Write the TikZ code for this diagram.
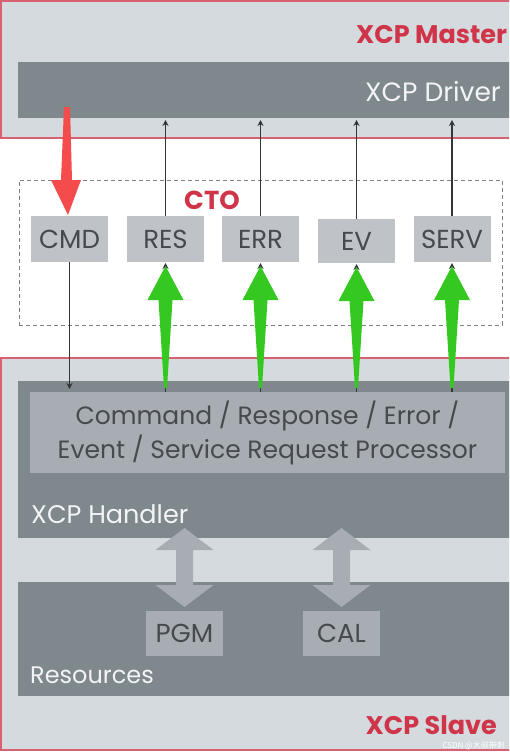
\documentclass[tikz,border=0pt]{standalone}
\usepackage{fontspec}
\setmainfont{Poppins}
\newfontfamily\cjkfont{Noto Sans CJK SC}
\usetikzlibrary{arrows.meta,calc}
\definecolor{panel}{RGB}{212,218,222}
\definecolor{panelborder}{RGB}{216,96,112}
\definecolor{darkbox}{RGB}{127,136,141}
\definecolor{ctofill}{RGB}{191,195,199}
\definecolor{procfill}{RGB}{167,173,178}
\definecolor{titlered}{RGB}{208,52,72}
\definecolor{redarrow}{RGB}{244,76,76}
\definecolor{greenarrow}{RGB}{52,200,32}
\definecolor{darktext}{RGB}{70,74,78}
\definecolor{lighttext}{RGB}{242,244,246}
\definecolor{thinline}{RGB}{50,53,57}
\tikzset{
  panelbox/.style={draw=panelborder, line width=1.5, fill=panel, inner sep=0, outer sep=0},
  darkpanel/.style={fill=darkbox, inner sep=0, outer sep=0},
  ctobox/.style={fill=ctofill, text=darktext, inner sep=0, outer sep=0, minimum width=77, minimum height=46, font=\fontsize{26}{30}\selectfont},
  resbox/.style={fill=procfill, text=darktext, inner sep=0, outer sep=0, minimum width=77, minimum height=45, font=\fontsize{26}{30}\selectfont},
  whitelabel/.style={text=lighttext, inner sep=0, font=\fontsize{25}{28}\selectfont},
  redtitle/.style={text=titlered, inner sep=0, font=\fontsize{25.5}{28}\selectfont\bfseries},
  thinarrow/.style={draw=thinline, line width=1.2, -{Stealth[length=6,width=6]}},
  fatgreen/.style={fill=greenarrow},
  fatred/.style={fill=redarrow},
  bothway/.style={fill=procfill},
}
\newcommand\greenup[2]{%
  \fill[fatgreen] ($(#1.south)+(0,4)$) -- ++(-18,34) -- ++(11,0)
    -- ($(#1.south |- #2.north)+(-1.5,-4)$) -- ++(3,0)
    -- ($(#1.south)+(7,38)$) -- ++(11,0) -- cycle;}
\newcommand\twoway[3]{%
  \fill[bothway] ($(#1.south -| #2.north)+(0,-10)$) coordinate (t#2)
    -- ++(29,22) -- ++(-20.5,0) -- ($(#2.north)+(8.5,-26)$) -- ++(20.5,0)
    -- ($(#2.north)+(0,-4)$) -- ++(-29,-22) -- ++(20.5,0)
    -- ($(t#2)+(-8.5,22)$) -- ++(-20.5,0) -- cycle;}
\begin{document}
\begin{tikzpicture}[x=1pt,y=-1pt]
\useasboundingbox (0,0) rectangle (509,755);
\clip (0,0) rectangle (509,755);
\fill[white] (0,0) rectangle (509,755);

% master
\node[panelbox, minimum width=514, minimum height=137] (master) at (258,69.5) {};
\node[darkpanel, minimum width=497, minimum height=56] (driver) at (266.5,90) {};
\node[redtitle, anchor=base west] (mastertitle) at (356,43) {XCP Master};
\node[whitelabel, anchor=base west, font=\fontsize{26.5}{28}\selectfont] (drivertitle) at (365,101) {XCP Driver};

% slave
\node[panelbox, minimum width=514, minimum height=392] (slave) at (258,554) {};
\node[darkpanel, minimum width=497, minimum height=157] (handler) at (266.5,459.5) {};
\node[darkpanel, minimum width=497, minimum height=114] (resources) at (266.5,639) {};
\node[fill=procfill, text=darktext, inner sep=0, outer sep=0, minimum width=475, minimum height=81,
      align=center, font=\fontsize{25}{34}\selectfont] (proc) at (267.5,432.5)
      {Command / Response / Error /\\Event / Service Request Processor};
\node[whitelabel, anchor=base west, font=\fontsize{25.5}{28}\selectfont] (handlertitle) at (31,523) {XCP Handler};
\node[whitelabel, anchor=base west, font=\fontsize{24}{28}\selectfont] (restitle) at (30,683) {Resources};
\node[redtitle, anchor=base east] (slavetitle) at (497,734) {XCP Slave};
\node[text=white, inner sep=0, anchor=base east, font=\cjkfont\fontsize{8}{9}\selectfont] (wm) at (505,748.5) {CSDN @大叔带刺};

% CTO
\node[draw=black!50, dash pattern=on 4 off 3, line width=0.8, inner sep=0, outer sep=0,
      minimum width=483, minimum height=145] (cto) at (260.5,252.5) {};
\node[redtitle, font=\fontsize{26}{28}\selectfont\bfseries] (ctotitle) at (212,200) {CTO};
\node[ctobox] (cmd) at (69.5,239) {CMD};
\node[ctobox] (res) at (165.5,239) {RES};
\node[ctobox] (err) at (260.5,239) {ERR};
\node[ctobox, minimum height=44] (ev) at (356.5,241) {EV};
\node[ctobox] (serv) at (452,239) {SERV};

% resources boxes
\node[resbox] (pgm) at (184.5,633.5) {PGM};
\node[resbox] (cal) at (341.5,633.5) {CAL};

% thin arrows up to driver
\foreach \b in {res,err,ev,serv}{
  \draw[thinarrow, shorten >=2] (\b.north) -- (\b.north |- driver.south);
  \draw[thinarrow, shorten >=1] (\b.south |- proc.north) -- (\b.south);
}
\draw[thinarrow, shorten >=3] (cmd.south) -- (cmd.south |- proc.north);

% green arrows
\greenup{res}{proc}
\greenup{err}{proc}
\greenup{ev}{proc}
\greenup{serv}{proc}

% red arrow
\fill[fatred] ($(driver.south -| cmd.north)+(-5.5,-11)$) -- ++(6,0)
  -- ($(cmd.north)+(2.5,-36)$) -- ++(9,0) -- ($(cmd.north)+(-1.5,-1)$)
  -- ($(cmd.north)+(-18.5,-36)$) -- ++(10,0) -- cycle;

% two-way arrows
\twoway{handler}{pgm}{}
\twoway{handler}{cal}{}
\end{tikzpicture}
\end{document}
